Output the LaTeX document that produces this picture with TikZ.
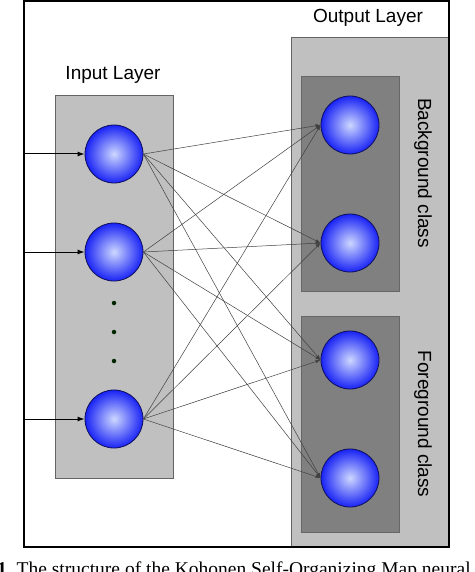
\documentclass[tikz,border=0pt]{standalone}
\usepackage{fontspec}
\setmainfont{Liberation Sans}
\newfontfamily\capfont{Liberation Serif}
\usetikzlibrary{arrows.meta}

\definecolor{boxgray}{RGB}{192,192,192}
\definecolor{classgray}{RGB}{128,128,128}
\definecolor{edgegray}{RGB}{100,100,100}
\definecolor{ballin}{RGB}{205,215,255}
\definecolor{ballout}{RGB}{25,35,245}
\definecolor{ballrim}{RGB}{15,15,90}

\tikzset{
  neuron/.style={circle, draw=ballrim, line width=0.8pt, minimum size=58pt, inner sep=0pt,
    shading=radial, inner color=ballin, outer color=ballout},
  dotmark/.style={circle, fill=black!85!green, minimum size=4.5pt, inner sep=0pt},
  link/.style={draw=black!75, line width=0.5pt, -{Latex[length=5pt,width=3.5pt]}},
  feed/.style={black, line width=1pt, -{Latex[length=7pt,width=5pt]}},
  layerbox/.style={fill=boxgray, draw=edgegray, line width=0.8pt},
  classbox/.style={fill=classgray, draw=black!60, line width=0.8pt},
  title/.style={font=\fontsize{19}{22}\selectfont, inner sep=0pt}
}

\begin{document}
\begin{tikzpicture}[x=1pt, y=-1pt]
\useasboundingbox (0,0) rectangle (474,572);

\draw[layerbox] (291,37) rectangle (448,547);
\draw[classbox] (301,76) rectangle (399,291);
\draw[classbox] (301,316) rectangle (399,532);
\draw[layerbox] (55,95) rectangle (173,478);
\draw[line width=1.5pt] (24,1) rectangle (449,547);

\path (113,75) node[title] (inlab) {Input Layer}
      (368,18) node[title] (outlab) {Output Layer}
      (423,173) node[title, rotate=-90] (bglab) {Background class}
      (423,424) node[title, rotate=-90] (fglab) {Foreground class};

\path (114,154) node[neuron] (u0) {}
      (114,252) node[neuron] (u1) {}
      (114,419) node[neuron] (u2) {}
      (114,303) node[dotmark] (d0) {}
      (114,332) node[dotmark] (d1) {}
      (114,361) node[dotmark] (d2) {}
      (350,125) node[neuron] (v0) {}
      (350,243) node[neuron] (v1) {}
      (350,360) node[neuron] (v2) {}
      (350,478) node[neuron] (v3) {};

\coordinate (s0) at (24,154);
\coordinate (s1) at (24,252);
\coordinate (s2) at (24,419);

\draw[feed] (s0) to (u0.west);
\draw[feed] (s1) to (u1.west);
\draw[feed] (s2) to (u2.west);

\draw[link] (u0.east) to (v0.west);
\draw[link] (u0.east) to (v1.west);
\draw[link] (u0.east) to (v2.west);
\draw[link] (u0.east) to (v3.west);
\draw[link] (u1.east) to (v0.west);
\draw[link] (u1.east) to (v1.west);
\draw[link] (u1.east) to (v2.west);
\draw[link] (u1.east) to (v3.west);
\draw[link] (u2.east) to (v0.west);
\draw[link] (u2.east) to (v1.west);
\draw[link] (u2.east) to (v2.west);
\draw[link] (u2.east) to (v3.west);

\node[anchor=base west, inner sep=0pt, font=\capfont\fontsize{19.5}{23}\selectfont] (cap) at (-3,575)
  {\textbf{1.}\ The structure of the Kohonen Self-Organizing Map neural network};

\end{tikzpicture}
\end{document}
